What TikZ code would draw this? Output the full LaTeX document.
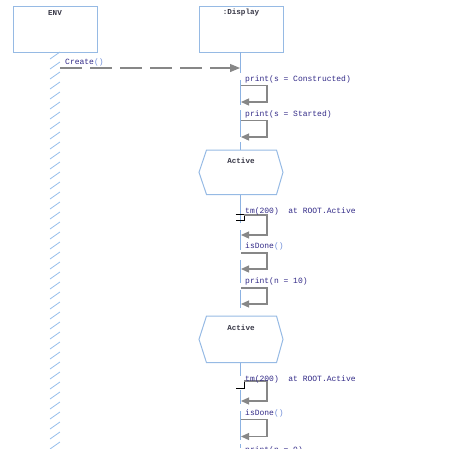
\documentclass[tikz,border=0pt]{standalone}
\usepackage{fontspec}
\setmonofont{Liberation Mono}
\usetikzlibrary{arrows.meta}
\definecolor{boxblue}{RGB}{150,186,228}
\definecolor{lifeblue}{RGB}{140,178,226}
\definecolor{hatchblue}{RGB}{150,190,235}
\definecolor{msggray}{RGB}{135,135,135}
\definecolor{txtnavy}{RGB}{50,42,135}
\definecolor{parblue}{RGB}{110,140,215}
\definecolor{hdrgray}{RGB}{55,55,70}
\begin{document}
\begin{tikzpicture}[x=1pt,y=-1pt,
  objbox/.style={draw=boxblue,line width=1pt,minimum width=84pt,minimum height=46pt,inner sep=0pt},
  hdr/.style={font=\ttfamily\bfseries\fontsize{7.6}{9}\selectfont,text=hdrgray,inner sep=0pt},
  lifeline/.style={draw=lifeblue,line width=1pt},
  hatchline/.style={draw=hatchblue,line width=0.8pt},
  msg/.style={draw=msggray,line width=1.3pt,-{Triangle[length=8pt,width=7pt]}},
  createmsg/.style={draw=msggray,line width=1.2pt,dash pattern=on 22pt off 8pt,-{Triangle[length=10pt,width=8pt]}},
  lbl/.style={font=\ttfamily\fontsize{8}{9}\selectfont,text=txtnavy,inner sep=0pt,anchor=west},
  hexline/.style={draw=boxblue,line width=1pt},
  timerline/.style={draw=black,line width=1pt}]
\useasboundingbox (0,0) rectangle (450,448);
\clip (0,0) rectangle (450,448);

% objects
\node[objbox] (env) at (55,29) {};
\node[hdr] (envlbl) at (55,13) {ENV};
\node[objbox] (disp) at (241,29) {};
\node[hdr] (displbl) at (241,13) {:Display};

% ENV hatched lifeline
\foreach \y in {52,62,...,442} \draw[hatchline] (50,\y+7) -- (60,\y);

% Display lifeline segments
\foreach \a/\b in {52/73,80/105,110/137,142/150,
                   195/223,230/250,260/283,290/308,
                   363/376,390/404,411/440,444/448}
  \draw[lifeline] (240.5,\a) -- (240.5,\b);

% Create message
\coordinate (cs) at (60,68);
\coordinate (ce) at (240,68);
\draw[createmsg] (cs) -- (ce);
\node[lbl] (createlbl) at (65,62) {Create\textcolor{parblue}{()}};

% self messages
\newcommand\selfmsg[4]{%
  \coordinate (#1a) at (241,#2);
  \coordinate (#1b) at (267,#2);
  \coordinate (#1c) at (267,#3);
  \coordinate (#1d) at (241,#3);
  \draw[msg] (#1a) -- (#1b) -- (#1c) -- (#1d);
  \node[lbl] (#1l) at (245,#2-6.5) {#4};}

\selfmsg{m1}{85.5}{102}{print(s = Constructed)}
\selfmsg{m2}{120.5}{137}{print(s = Started)}

% hexagon 1
\draw[hexline] (206.5,150) -- (276.5,150) -- (283,172.3) -- (276.5,194.5)
  -- (206.5,194.5) -- (199,172.3) -- cycle;
\node[hdr] (act1) at (241,160.5) {Active};

% timer 1
\draw[timerline] (235.5,214) -- (244,214) -- (244,220) -- (235.5,220);
\coordinate (t1a) at (244,215);
\coordinate (t1b) at (267,215);
\coordinate (t1c) at (267,235);
\coordinate (t1d) at (241,235);
\draw[msg] (t1a) -- (t1b) -- (t1c) -- (t1d);
\node[lbl] (t1l) at (245,211.5) {tm(200)~~at ROOT.Active};

\selfmsg{m3}{253}{269}{isDone\textcolor{parblue}{()}}
\selfmsg{m4}{288}{304}{print(n = 10)}

% hexagon 2
\draw[hexline] (206.5,316) -- (276.5,316) -- (283,339.3) -- (276.5,362.7)
  -- (206.5,362.7) -- (199,339.3) -- cycle;
\node[hdr] (act2) at (241,328) {Active};

% timer 2
\draw[timerline] (244,380.5) -- (244,388.5) -- (235.5,388.5);
\coordinate (t2a) at (244,381);
\coordinate (t2b) at (267,381);
\coordinate (t2c) at (267,401);
\coordinate (t2d) at (241,401);
\draw[msg] (t2a) -- (t2b) -- (t2c) -- (t2d);
\node[lbl] (t2l) at (245,379.5) {tm(200)~~at ROOT.Active};

\selfmsg{m5}{419.5}{436.5}{isDone\textcolor{parblue}{()}}
\node[lbl] (m6l) at (245,450) {print(n = 9)};
\end{tikzpicture}
\end{document}
